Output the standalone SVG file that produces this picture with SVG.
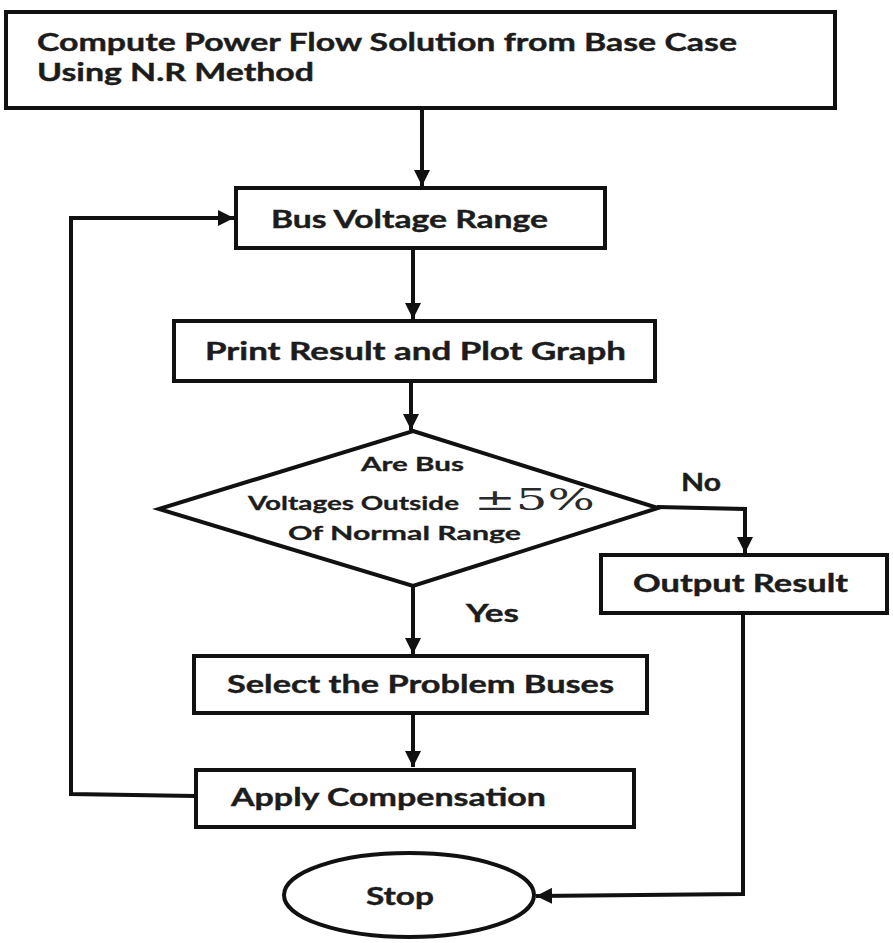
<svg xmlns="http://www.w3.org/2000/svg" width="893" height="943" viewBox="0 0 893 943">
<defs>
<marker id="ah" viewBox="0 0 10 10" refX="10" refY="5" markerWidth="4" markerHeight="4" markerUnits="strokeWidth" orient="auto">
<path d="M0,0 L10,5 L0,10 z" fill="#111"/>
</marker>
<style>
.box{fill:#fff;stroke:#111;stroke-width:4}
.t{font-family:Lato,"Open Sans","Liberation Sans",sans-serif;font-weight:bold;font-size:24px;fill:#1c1c1c;stroke:#1c1c1c;stroke-width:0.4}
.d{font-family:Lato,"Open Sans","Liberation Sans",sans-serif;font-weight:bold;font-size:19px;fill:#1c1c1c;stroke:#1c1c1c;stroke-width:0.3}
.c{fill:none;stroke:#111;stroke-width:4}
</style>
</defs>
<rect width="893" height="943" fill="#fff"/>
<g id="connectors">
<path class="c" d="M422,108 L422,186" marker-end="url(#ah)"/>
<path class="c" d="M413,248 L413,319" marker-end="url(#ah)"/>
<path class="c" d="M411,381 L411,430" marker-end="url(#ah)"/>
<path class="c" d="M657,507 L745,509 L745,553" marker-end="url(#ah)"/>
<path class="c" d="M413,586 L413,654" marker-end="url(#ah)"/>
<path class="c" d="M413,714 L413,767" marker-end="url(#ah)"/>
<path class="c" d="M195,796 L71,794 L71,218 L234,218" marker-end="url(#ah)"/>
<path class="c" d="M743,613 L743,894 L536,896" marker-end="url(#ah)"/>
<text class="t" x="681" y="491" textLength="40" lengthAdjust="spacingAndGlyphs">No</text>
<text class="t" x="466" y="622" textLength="53" lengthAdjust="spacingAndGlyphs">Yes</text>
</g>
<g id="n-compute">
<rect class="box" x="6" y="12" width="829" height="96"/>
<text class="t" x="37" y="51" textLength="700" lengthAdjust="spacingAndGlyphs">Compute Power Flow Solution from Base Case</text>
<text class="t" x="37" y="81" textLength="277" lengthAdjust="spacingAndGlyphs">Using N.R Method</text>
</g>
<g id="n-bus">
<rect class="box" x="236" y="188" width="369" height="60"/>
<text class="t" x="271" y="228" textLength="277" lengthAdjust="spacingAndGlyphs">Bus Voltage Range</text>
</g>
<g id="n-print">
<rect class="box" x="174" y="321" width="481" height="60"/>
<text class="t" x="205" y="360" textLength="421" lengthAdjust="spacingAndGlyphs">Print Result and Plot Graph</text>
</g>
<g id="n-decision">
<polygon class="box" points="413,431 658,508 413,586 159,509"/>
<text class="d" x="361" y="471" textLength="103" lengthAdjust="spacingAndGlyphs">Are Bus</text>
<text class="d" x="248" y="510" textLength="211" lengthAdjust="spacingAndGlyphs">Voltages Outside</text>
<text x="474" y="510" font-family="'DejaVu Serif','Liberation Serif',serif" font-size="30" fill="#2a2a2a" textLength="121" lengthAdjust="spacingAndGlyphs">±5%</text>
<text class="d" x="288" y="540" textLength="233" lengthAdjust="spacingAndGlyphs">Of Normal Range</text>
</g>
<g id="n-output">
<rect class="box" x="601" y="555" width="286" height="58"/>
<text class="t" x="633" y="592" textLength="215" lengthAdjust="spacingAndGlyphs">Output Result</text>
</g>
<g id="n-select">
<rect class="box" x="194" y="656" width="453" height="57"/>
<text class="t" x="227" y="693" textLength="387" lengthAdjust="spacingAndGlyphs">Select the Problem Buses</text>
</g>
<g id="n-apply">
<rect class="box" x="196" y="770" width="438" height="57"/>
<text class="t" x="231" y="806" textLength="315" lengthAdjust="spacingAndGlyphs">Apply Compensation</text>
</g>
<g id="n-stop">
<ellipse class="box" cx="409" cy="895" rx="125" ry="42"/>
<text class="t" x="366" y="905" textLength="68" lengthAdjust="spacingAndGlyphs">Stop</text>
</g>
</svg>
